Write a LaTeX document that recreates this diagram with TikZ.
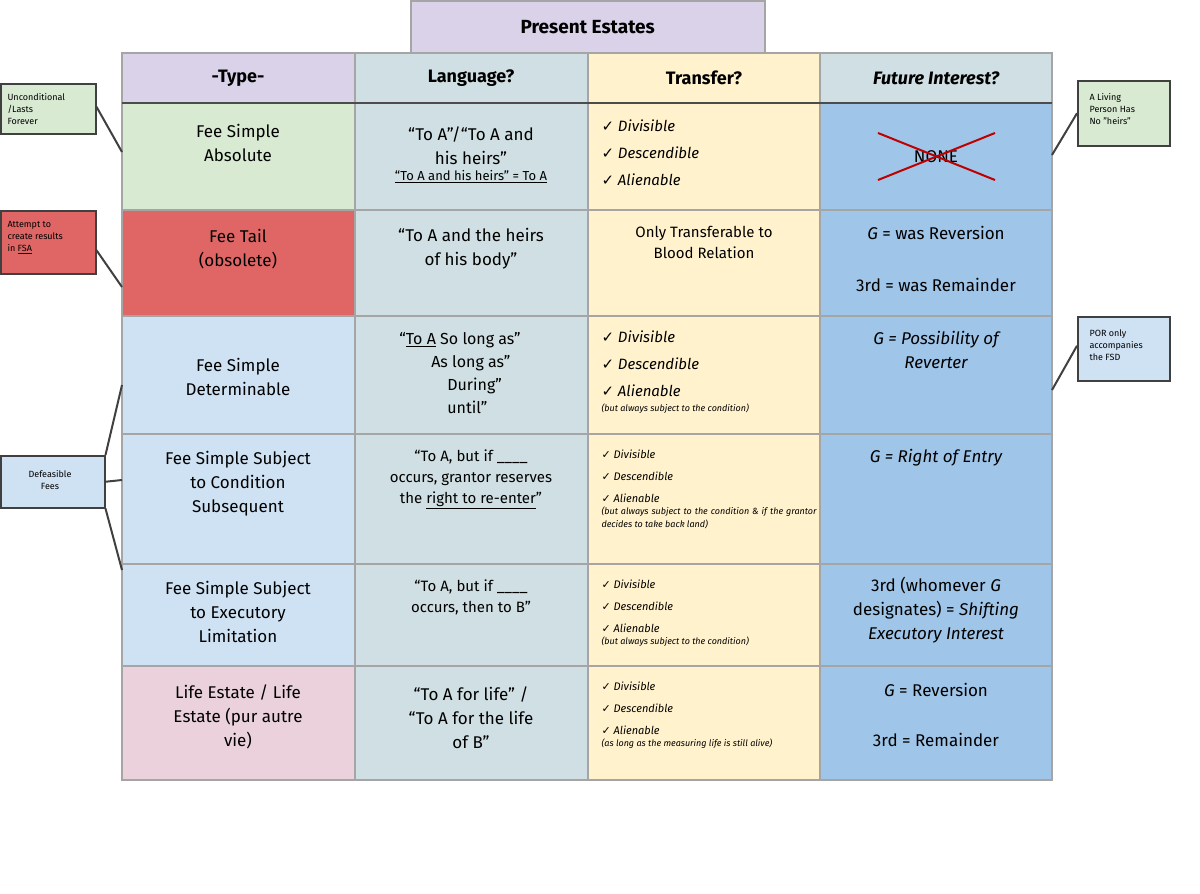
\documentclass[tikz,border=0pt]{standalone}
\usepackage{fontspec}
\setmainfont{Fira Sans}
\newfontfamily\ck{DejaVu Sans}
\newcommand{\cm}{{\ck ✓}}
\definecolor{lav}{HTML}{D9D2E9}
\definecolor{lang}{HTML}{D0DFE3}
\definecolor{tran}{HTML}{FFF2CC}
\definecolor{fut}{HTML}{9FC5E8}
\definecolor{futh}{HTML}{D0DFE3}
\definecolor{grn}{HTML}{D9EAD3}
\definecolor{rd}{HTML}{E06666}
\definecolor{blu}{HTML}{CFE2F3}
\definecolor{pnk}{HTML}{EAD1DC}
\definecolor{gl}{HTML}{A5A5A5}
\begin{document}
\begin{tikzpicture}[x=1pt,y=-1pt,
 cellbox/.style={draw=gl,line width=1.5pt},
 txt/.style={align=center,font=\fontsize{17}{24}\selectfont},
 sm/.style={align=left,font=\fontsize{14}{22}\selectfont,anchor=north west},
 note/.style={draw=black!75,line width=1.5pt,anchor=north west,inner sep=0pt},
 notetext/.style={align=left,font=\fontsize{9}{12}\selectfont,anchor=north west},
 lead/.style={draw=black!75,line width=2pt}]
\useasboundingbox (0,0) rectangle (1200,894);
% title
\node[draw=gl,line width=1.5pt,fill=lav,minimum width=354pt,minimum height=52pt,anchor=north west,inner sep=0pt,font=\bfseries\fontsize{19}{22}\selectfont] (title) at (410,0) {Present Estates};
\def\cell#1#2#3#4#5{\fill[#5] (#1,#3) rectangle (#2,#4); \draw[cellbox] (#1,#3) rectangle (#2,#4);}
\cell{122}{355}{53}{103}{lav}\cell{355}{588}{53}{103}{lang}\cell{588}{820}{53}{103}{tran}\cell{820}{1052}{53}{103}{futh}
\cell{122}{355}{103}{210}{grn}\cell{122}{355}{210}{316}{rd}\cell{122}{355}{316}{434}{blu}
\cell{122}{355}{434}{564}{blu}\cell{122}{355}{564}{666}{blu}\cell{122}{355}{666}{780}{pnk}
\foreach \ya/\yb in {103/210,210/316,316/434,434/564,564/666,666/780}{
 \cell{355}{588}{\ya}{\yb}{lang}\cell{588}{820}{\ya}{\yb}{tran}\cell{820}{1052}{\ya}{\yb}{fut}}
\draw[black!70,line width=2pt] (122,103) -- (1052,103);
% headers
\node[txt,font=\bfseries\fontsize{18}{22}\selectfont] (h1) at (238,78) {-Type-};
\node[txt,font=\bfseries\fontsize{18}{22}\selectfont] (h2) at (471,78) {Language?};
\node[txt,font=\bfseries\fontsize{18}{22}\selectfont] (h3) at (704,78) {Transfer?};
\node[txt,font=\bfseries\itshape\fontsize{18}{22}\selectfont] (h4) at (936,78) {Future Interest?};
% type column
\node[txt] (t1) at (238,143) {Fee Simple\\Absolute};
\node[txt] (t2) at (238,249) {Fee Tail\\(obsolete)};
\node[txt] (t3) at (238,377) {Fee Simple\\Determinable};
\node[txt] (t4) at (238,484) {Fee Simple Subject\\to Condition\\Subsequent};
\node[txt] (t5) at (238,612) {Fee Simple Subject\\to Executory\\Limitation};
\node[txt] (t6) at (238,717) {Life Estate / Life\\Estate (pur autre\\vie)};
% language column
\node[txt] (l1) at (471,155) {“To A”/“To A and\\his heirs”\\[-8pt]{\fontsize{13}{16}\selectfont\underline{“To A and his heirs” = To A}}};
\node[txt] (l2) at (471,249) {“To A and the heirs\\of his body”};
\node[txt,align=left,font=\fontsize{16}{23}\selectfont] (l3) at (460,373) {“\underline{To A} So long as”\\\hspace*{2em}As long as”\\\hspace*{3em}During”\\\hspace*{3em}until”};
\node[txt,font=\fontsize{15}{21}\selectfont] (l4) at (471,479) {“To A, but if \_\_\_\_\\occurs, grantor reserves\\the \underline{right to re-enter}”};
\node[txt,font=\fontsize{15}{21}\selectfont] (l5) at (471,597) {“To A, but if \_\_\_\_\\occurs, then to B”};
\node[txt] (l6) at (471,718) {“To A for life” /\\“To A for the life\\of B”};
% transfer column
\node[sm,font=\itshape\fontsize{15}{27}\selectfont] (x1) at (598,116) {\cm\ Divisible\\\cm\ Descendible\\\cm\ Alienable};
\node[txt,font=\fontsize{15}{21}\selectfont] (x2) at (704,242) {Only Transferable to\\Blood Relation};
\node[sm,font=\itshape\fontsize{15}{27}\selectfont] (x3) at (598,327) {\cm\ Divisible\\\cm\ Descendible\\\cm\ Alienable\\[-12pt]{\fontsize{9}{11}\selectfont(but always subject to the condition)}};
\node[sm,font=\itshape\fontsize{11}{22}\selectfont] (x4) at (598,446) {\cm\ Divisible\\\cm\ Descendible\\\cm\ Alienable\\[-10pt]{\fontsize{9}{13}\selectfont\parbox[t]{215pt}{(but always subject to the condition \& if the grantor decides to take back land)}}};
\node[sm,font=\itshape\fontsize{11}{22}\selectfont] (x5) at (598,576) {\cm\ Divisible\\\cm\ Descendible\\\cm\ Alienable\\[-10pt]{\fontsize{9}{11}\selectfont(but always subject to the condition)}};
\node[sm,font=\itshape\fontsize{11}{22}\selectfont] (x6) at (598,678) {\cm\ Divisible\\\cm\ Descendible\\\cm\ Alienable\\[-10pt]{\fontsize{9}{13}\selectfont\parbox[t]{215pt}{(as long as the measuring life is still alive)}}};
% future column
\node[txt] (f1) at (936,157) {NONE};
\draw[red!75!black,line width=2pt] (878,133) -- (995,180);
\draw[red!75!black,line width=2pt] (878,180) -- (995,133);
\node[txt,font=\fontsize{17}{52}\selectfont] (f2) at (936,259) {\textit{G} = was Reversion\\3rd = was Remainder};
\node[txt,font=\itshape\fontsize{17}{24}\selectfont] (f3) at (936,350) {G = Possibility of\\Reverter};
\node[txt,font=\itshape\fontsize{17}{24}\selectfont] (f4) at (936,458) {G = Right of Entry};
\node[txt] (f5) at (936,610) {3rd (whomever \textit{G}\\designates) = \textit{Shifting}\\\textit{Executory Interest}};
\node[txt,font=\fontsize{17}{50}\selectfont] (f6) at (936,715) {\textit{G} = Reversion\\3rd = Remainder};
% notes
\node[note,fill=grn,minimum width=95pt,minimum height=50pt] (n1) at (0,83) {};
\node[notetext] at (4,90) {Unconditional\\/Lasts\\Forever};
\node[note,fill=rd,minimum width=95pt,minimum height=63pt] (n2) at (0,210) {};
\node[notetext] at (4,218) {Attempt to\\create results\\in \underline{FSA}};
\node[note,fill=blu,minimum width=104pt,minimum height=52pt] (n3) at (0,455) {};
\node[notetext,anchor=center,align=center] at (50,480) {Defeasible\\Fees};
\node[note,fill=grn,minimum width=92pt,minimum height=65pt] (n4) at (1077,80) {};
\node[notetext] at (1086,90) {A Living\\Person Has\\No "heirs"};
\node[note,fill=blu,minimum width=92pt,minimum height=64pt] (n5) at (1077,316) {};
\node[notetext] at (1086,326) {POR only\\accompanies\\the FSD};
\coordinate (c1) at (122,152); \coordinate (c2) at (122,287);
\coordinate (c3) at (122,385); \coordinate (c4) at (122,480); \coordinate (c5) at (122,570);
\coordinate (c6) at (1052,155); \coordinate (c7) at (1052,390);
\draw[lead] (n1.east) ++(0,-2) -- (c1);
\draw[lead] (n2.east) ++(0,8) -- (c2);
\draw[lead] (n3.north east) -- (c3);
\draw[lead] (n3.east) -- (c4);
\draw[lead] (n3.south east) -- (c5);
\draw[lead] (n4.west) -- (c6);
\draw[lead] (n5.west) ++(0,-3) -- (c7);
\end{tikzpicture}
\end{document}
